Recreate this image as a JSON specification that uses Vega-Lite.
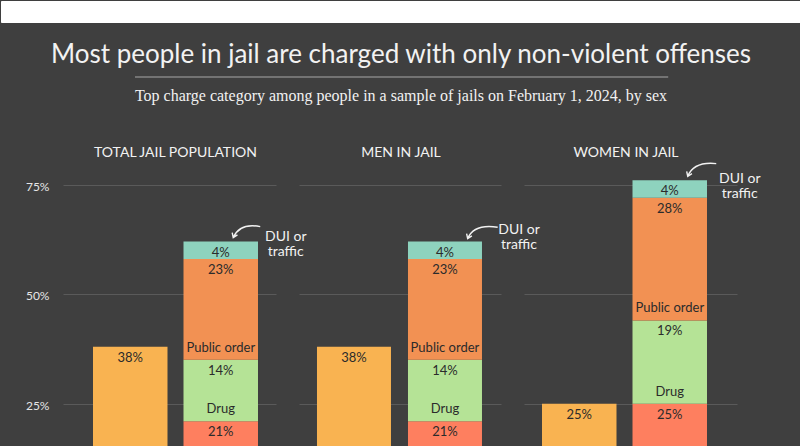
{
  "$schema": "https://vega.github.io/schema/vega-lite/v6.json",
  "background": "#3f3f3f",
  "padding": 0,
  "datasets": {
    "jail": [
      {"group": "total", "bar": "Violent", "category": "Violent", "rank": 1, "share": 0.38},
      {"group": "total", "bar": "Non-violent", "category": "Property", "rank": 1, "share": 0.21},
      {"group": "total", "bar": "Non-violent", "category": "Drug", "rank": 2, "share": 0.14},
      {"group": "total", "bar": "Non-violent", "category": "Public order", "rank": 3, "share": 0.23},
      {"group": "total", "bar": "Non-violent", "category": "DUI or traffic", "rank": 4, "share": 0.04},
      {"group": "men", "bar": "Violent", "category": "Violent", "rank": 1, "share": 0.38},
      {"group": "men", "bar": "Non-violent", "category": "Property", "rank": 1, "share": 0.21},
      {"group": "men", "bar": "Non-violent", "category": "Drug", "rank": 2, "share": 0.14},
      {"group": "men", "bar": "Non-violent", "category": "Public order", "rank": 3, "share": 0.23},
      {"group": "men", "bar": "Non-violent", "category": "DUI or traffic", "rank": 4, "share": 0.04},
      {"group": "women", "bar": "Violent", "category": "Violent", "rank": 1, "share": 0.25},
      {"group": "women", "bar": "Non-violent", "category": "Property", "rank": 1, "share": 0.25},
      {"group": "women", "bar": "Non-violent", "category": "Drug", "rank": 2, "share": 0.19},
      {"group": "women", "bar": "Non-violent", "category": "Public order", "rank": 3, "share": 0.28},
      {"group": "women", "bar": "Non-violent", "category": "DUI or traffic", "rank": 4, "share": 0.04}
    ]
  },
  "bounds": "flush",
  "spacing": 0,
  "vconcat": [
    {
      "width": 800,
      "height": 21,
      "view": {"fill": "#ffffff", "stroke": "#ffffff", "strokeWidth": 1},
      "data": {"values": [{}]},
      "mark": {"type": "rule", "opacity": 0},
      "encoding": {}
    },
    {
      "width": 800,
      "height": 54,
      "data": {"values": [{}]},
      "mark": {"type": "rule", "opacity": 0},
      "encoding": {}
    },
    {
      "width": 800,
      "height": 2,
      "title": {"text": "Most people in jail are charged with only non-violent offenses", "fontSize": 26, "offset": 7.8, "frame": "group"},
      "data": {"values": [{}]},
      "mark": {"type": "rule", "color": "#a8a8a8", "strokeWidth": 1.2},
      "encoding": {
        "x": {"datum": 0.1675, "type": "quantitative", "scale": {"domain": [0, 1]}, "axis": null},
        "x2": {"datum": 0.834}
      }
    },
    {
      "width": 800,
      "height": 75.64,
      "title": {"text": "Top charge category among people in a sample of jails on February 1, 2024, by sex", "font": "Liberation Serif", "fontSize": 16, "offset": -26, "frame": "group"},
      "data": {"values": [{}]},
      "mark": {"type": "rule", "opacity": 0},
      "encoding": {}
    },
    {
      "spacing": 23,
      "bounds": "flush",
      "hconcat": [
        {
          "width": 39,
          "height": 359.16,
          "data": {"values": [{}]},
          "mark": {"type": "rule", "opacity": 0},
          "encoding": {}
        },
        {
          "width": 213,
          "height": 359.16,
          "title": {"text": "TOTAL JAIL POPULATION", "frame": "group", "dx": 6, "offset": -6.16},
          "data": {"name": "jail"},
          "transform": [
            {"filter": "datum.group === 'total'"},
            {"stack": "share", "groupby": ["bar"], "sort": [{"field": "rank", "order": "ascending"}], "as": ["lo", "hi"]}
          ],
          "encoding": {
            "x": {"field": "bar", "type": "nominal", "sort": ["Violent", "Non-violent"], "axis": null,
                  "scale": {"paddingInner": 0.1768, "paddingOuter": 0.2652, "align": 0.625}},
            "y": {"field": "hi", "type": "quantitative", "scale": {"domain": [0, 0.82], "nice": false},
                  "axis": {"values": [0.25, 0.5, 0.75], "format": ".0%", "labelPadding": 14, "labelOffset": 1.5}}
          },
          "layer": [
            {
              "mark": {"type": "bar"},
              "encoding": {
                "y": {"field": "lo", "type": "quantitative"},
                "y2": {"field": "hi"},
                "color": {"field": "category", "type": "nominal", "legend": null,
                          "scale": {"domain": ["Violent", "Property", "Drug", "Public order", "DUI or traffic"],
                                    "range": ["#f9b351", "#fe7f5f", "#b5e396", "#f29153", "#8ed3be"]}}
              }
            },
            {
              "mark": {"type": "text", "dy": 11, "baseline": "middle"},
              "encoding": {"text": {"field": "share", "type": "quantitative", "format": ".0%"}}
            },
            {
              "transform": [{"filter": "datum.category !== 'DUI or traffic'"}],
              "mark": {"type": "text", "dy": -12, "baseline": "middle"},
              "encoding": {"y": {"field": "lo", "type": "quantitative"}, "text": {"field": "category", "type": "nominal"}}
            },
            {
              "transform": [{"filter": "datum.category === 'DUI or traffic'"}],
              "mark": {"type": "text", "color": "#f2f2f2", "fontSize": 14, "lineHeight": 14.5, "baseline": "middle", "dx": 65, "dy": -4.6},
              "encoding": {"text": {"value": ["DUI or", "traffic"]}}
            },
            {
              "transform": [{"filter": "datum.category === 'DUI or traffic'"}],
              "mark": {"type": "point", "shape": "M3.95,-1.5Q1.9,-1.9,1.25,-0.4M1.67,-0.665L1.25,-0.4L1.145,-0.89", "size": 400, "filled": false, "color": "#f2f2f2", "strokeWidth": 1.4, "opacity": 1}
            }
          ]
        },
        {
          "width": 202,
          "height": 359.16,
          "title": {"text": "MEN IN JAIL", "frame": "group", "dx": 1, "offset": -6.16},
          "data": {"name": "jail"},
          "transform": [
            {"filter": "datum.group === 'men'"},
            {"stack": "share", "groupby": ["bar"], "sort": [{"field": "rank", "order": "ascending"}], "as": ["lo", "hi"]}
          ],
          "encoding": {
            "x": {"field": "bar", "type": "nominal", "sort": ["Violent", "Non-violent"], "axis": null,
                  "scale": {"paddingInner": 0.1868, "paddingOuter": 0.2033, "align": 0.486}},
            "y": {"field": "hi", "type": "quantitative", "scale": {"domain": [0, 0.82], "nice": false},
                  "axis": {"values": [0.25, 0.5, 0.75], "labels": false, "minExtent": 0, "maxExtent": 0}}
          },
          "layer": [
            {
              "mark": {"type": "bar"},
              "encoding": {
                "y": {"field": "lo", "type": "quantitative"},
                "y2": {"field": "hi"},
                "color": {"field": "category", "type": "nominal", "legend": null,
                          "scale": {"domain": ["Violent", "Property", "Drug", "Public order", "DUI or traffic"],
                                    "range": ["#f9b351", "#fe7f5f", "#b5e396", "#f29153", "#8ed3be"]}}
              }
            },
            {
              "mark": {"type": "text", "dy": 11, "baseline": "middle"},
              "encoding": {"text": {"field": "share", "type": "quantitative", "format": ".0%"}}
            },
            {
              "transform": [{"filter": "datum.category !== 'DUI or traffic'"}],
              "mark": {"type": "text", "dy": -12, "baseline": "middle"},
              "encoding": {"y": {"field": "lo", "type": "quantitative"}, "text": {"field": "category", "type": "nominal"}}
            },
            {
              "transform": [{"filter": "datum.category === 'DUI or traffic'"}],
              "mark": {"type": "text", "color": "#f2f2f2", "fontSize": 14, "lineHeight": 14.5, "baseline": "middle", "dx": 74, "dy": -11.5},
              "encoding": {"text": {"value": ["DUI or", "traffic"]}}
            },
            {
              "transform": [{"filter": "datum.category === 'DUI or traffic'"}],
              "mark": {"type": "point", "shape": "M5.27,-1.43Q2.9,-1.8,2.27,-0.3M2.69,-0.565L2.27,-0.3L2.165,-0.79", "size": 400, "filled": false, "color": "#f2f2f2", "strokeWidth": 1.4, "opacity": 1}
            }
          ]
        },
        {
          "width": 213,
          "height": 359.16,
          "title": {"text": "WOMEN IN JAIL", "frame": "group", "dx": -4.5, "offset": -6.16},
          "data": {"name": "jail"},
          "transform": [
            {"filter": "datum.group === 'women'"},
            {"stack": "share", "groupby": ["bar"], "sort": [{"field": "rank", "order": "ascending"}], "as": ["lo", "hi"]}
          ],
          "encoding": {
            "x": {"field": "bar", "type": "nominal", "sort": ["Violent", "Non-violent"], "axis": null,
                  "scale": {"paddingInner": 0.1768, "paddingOuter": 0.2652, "align": 0.375}},
            "y": {"field": "hi", "type": "quantitative", "scale": {"domain": [0, 0.82], "nice": false},
                  "axis": {"values": [0.25, 0.5, 0.75], "labels": false, "minExtent": 0, "maxExtent": 0}}
          },
          "layer": [
            {
              "mark": {"type": "bar"},
              "encoding": {
                "y": {"field": "lo", "type": "quantitative"},
                "y2": {"field": "hi"},
                "color": {"field": "category", "type": "nominal", "legend": null,
                          "scale": {"domain": ["Violent", "Property", "Drug", "Public order", "DUI or traffic"],
                                    "range": ["#f9b351", "#fe7f5f", "#b5e396", "#f29153", "#8ed3be"]}}
              }
            },
            {
              "mark": {"type": "text", "dy": 11, "baseline": "middle"},
              "encoding": {"text": {"field": "share", "type": "quantitative", "format": ".0%"}}
            },
            {
              "transform": [{"filter": "datum.category !== 'DUI or traffic'"}],
              "mark": {"type": "text", "dy": -12, "baseline": "middle"},
              "encoding": {"y": {"field": "lo", "type": "quantitative"}, "text": {"field": "category", "type": "nominal"}}
            },
            {
              "transform": [{"filter": "datum.category === 'DUI or traffic'"}],
              "mark": {"type": "text", "color": "#f2f2f2", "fontSize": 14, "lineHeight": 14.5, "baseline": "middle", "dx": 70, "dy": -1},
              "encoding": {"text": {"value": ["DUI or", "traffic"]}}
            },
            {
              "transform": [{"filter": "datum.category === 'DUI or traffic'"}],
              "mark": {"type": "point", "shape": "M4.65,-1.67Q2.4,-1.9,1.8,-0.4M2.22,-0.665L1.8,-0.4L1.695,-0.89", "size": 400, "filled": false, "color": "#f2f2f2", "strokeWidth": 1.4, "opacity": 1}
            }
          ]
        }
      ]
    }
  ],
  "config": {
    "view": {"stroke": null},
    "font": "Lato",
    "title": {"color": "#f2f2f2", "font": "Lato", "fontWeight": "normal", "fontSize": 14, "anchor": "middle", "baseline": "alphabetic"},
    "text": {"font": "Lato", "fontSize": 13, "color": "#2b2b2b"},
    "axis": {
      "title": null,
      "domain": false,
      "ticks": false,
      "grid": true,
      "gridColor": "#5a5a5a",
      "gridWidth": 1.2,
      "labelColor": "#e6e6e6",
      "labelFont": "Lato",
      "labelFontSize": 12
    }
  }
}
